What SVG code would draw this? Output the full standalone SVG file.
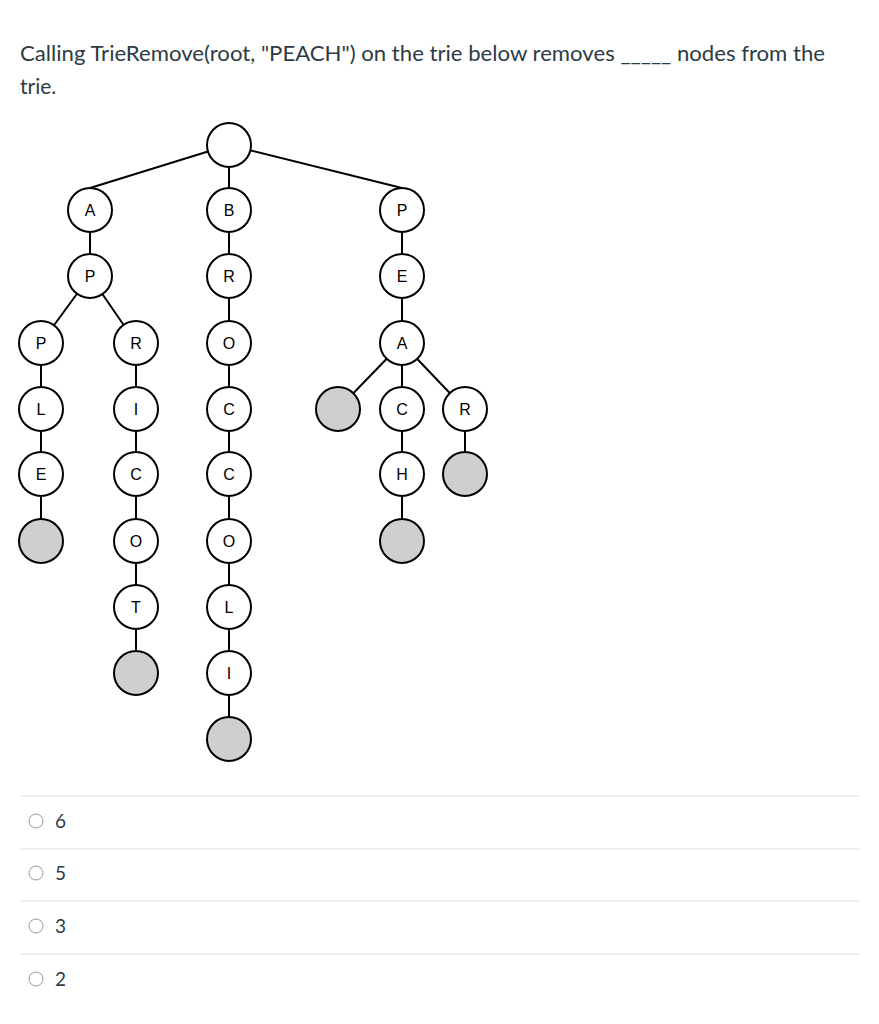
<svg xmlns="http://www.w3.org/2000/svg" width="879" height="1024" viewBox="0 0 879 1024">
<style>
.t{font-family:Lato,"Open Sans",sans-serif;font-size:21px;fill:#2d3b45}
.n circle{fill:#fff;stroke:#000;stroke-width:2}
.n.g circle{fill:#cfcfcf}
.n text{font-family:"Liberation Sans",Arial,sans-serif;font-size:16px;text-anchor:middle;fill:#000}
#edges line{stroke:#000;stroke-width:2}
.r{fill:#fff;stroke:#999;stroke-width:1}
.sep{stroke:#ddd;stroke-width:1}
.o{font-family:Lato,"Open Sans",sans-serif;font-size:19px;fill:#2d3b45}
</style>
<rect width="879" height="1024" fill="#fff"/>
<text class="t" x="20" y="61" textLength="805" lengthAdjust="spacingAndGlyphs">Calling TrieRemove(root, "PEACH") on the trie below removes _____ nodes from the</text>
<text class="t" x="20" y="94">trie.</text>
<g id="edges">
<line x1="229" y1="145" x2="90" y2="188"/><line x1="229" y1="145" x2="402" y2="188"/>
<line x1="229" y1="145" x2="229" y2="739"/>
<line x1="90" y1="210" x2="90" y2="276"/>
<line x1="90" y1="276" x2="41" y2="343"/><line x1="90" y1="276" x2="136" y2="343"/>
<line x1="41" y1="343" x2="41" y2="541"/>
<line x1="136" y1="343" x2="136" y2="673"/>
<line x1="402" y1="210" x2="402" y2="541"/>
<line x1="402" y1="343" x2="338" y2="409"/><line x1="402" y1="343" x2="465" y2="409"/>
<line x1="465" y1="409" x2="465" y2="474"/>
</g>
<g id="root" class="n"><circle cx="229" cy="145" r="22"/></g>
<g id="nA" class="n"><circle cx="90" cy="210" r="22"/><text x="90" y="216">A</text></g>
<g id="nAP" class="n"><circle cx="90" cy="276" r="22"/><text x="90" y="282">P</text></g>
<g id="nAPP" class="n"><circle cx="41" cy="343" r="22"/><text x="41" y="349">P</text></g>
<g id="nAPPL" class="n"><circle cx="41" cy="409" r="22"/><text x="41" y="415">L</text></g>
<g id="nAPPLE" class="n"><circle cx="41" cy="474" r="22"/><text x="41" y="480">E</text></g>
<g id="nAPPLEend" class="n g"><circle cx="41" cy="541" r="22"/></g>
<g id="nAPR" class="n"><circle cx="136" cy="343" r="22"/><text x="136" y="349">R</text></g>
<g id="nAPRI" class="n"><circle cx="136" cy="409" r="22"/><text x="136" y="415">I</text></g>
<g id="nAPRIC" class="n"><circle cx="136" cy="474" r="22"/><text x="136" y="480">C</text></g>
<g id="nAPRICO" class="n"><circle cx="136" cy="541" r="22"/><text x="136" y="547">O</text></g>
<g id="nAPRICOT" class="n"><circle cx="136" cy="607" r="22"/><text x="136" y="613">T</text></g>
<g id="nAPRICOTend" class="n g"><circle cx="136" cy="673" r="22"/></g>
<g id="nB" class="n"><circle cx="229" cy="210" r="22"/><text x="229" y="216">B</text></g>
<g id="nBR" class="n"><circle cx="229" cy="276" r="22"/><text x="229" y="282">R</text></g>
<g id="nBRO" class="n"><circle cx="229" cy="343" r="22"/><text x="229" y="349">O</text></g>
<g id="nBROC" class="n"><circle cx="229" cy="409" r="22"/><text x="229" y="415">C</text></g>
<g id="nBROCC" class="n"><circle cx="229" cy="474" r="22"/><text x="229" y="480">C</text></g>
<g id="nBROCCO" class="n"><circle cx="229" cy="541" r="22"/><text x="229" y="547">O</text></g>
<g id="nBROCCOL" class="n"><circle cx="229" cy="607" r="22"/><text x="229" y="613">L</text></g>
<g id="nBROCCOLI" class="n"><circle cx="229" cy="673" r="22"/><text x="229" y="679">I</text></g>
<g id="nBROCCOLIend" class="n g"><circle cx="229" cy="739" r="22"/></g>
<g id="nP" class="n"><circle cx="402" cy="210" r="22"/><text x="402" y="216">P</text></g>
<g id="nPE" class="n"><circle cx="402" cy="276" r="22"/><text x="402" y="282">E</text></g>
<g id="nPEA" class="n"><circle cx="402" cy="343" r="22"/><text x="402" y="349">A</text></g>
<g id="nPEAend" class="n g"><circle cx="338" cy="409" r="22"/></g>
<g id="nPEAC" class="n"><circle cx="402" cy="409" r="22"/><text x="402" y="415">C</text></g>
<g id="nPEACH" class="n"><circle cx="402" cy="474" r="22"/><text x="402" y="480">H</text></g>
<g id="nPEACHend" class="n g"><circle cx="402" cy="541" r="22"/></g>
<g id="nPEAR" class="n"><circle cx="465" cy="409" r="22"/><text x="465" y="415">R</text></g>
<g id="nPEARend" class="n g"><circle cx="465" cy="474" r="22"/></g>
<line class="sep" x1="20" y1="796" x2="860" y2="796"/>
<line class="sep" x1="20" y1="849" x2="860" y2="849"/>
<line class="sep" x1="20" y1="901" x2="860" y2="901"/>
<line class="sep" x1="20" y1="954" x2="860" y2="954"/>
<circle class="r" cx="36" cy="821" r="7"/><text class="o" x="55" y="828">6</text>
<circle class="r" cx="36" cy="873" r="7"/><text class="o" x="55" y="880">5</text>
<circle class="r" cx="36" cy="926" r="7"/><text class="o" x="55" y="933">3</text>
<circle class="r" cx="36" cy="979" r="7"/><text class="o" x="55" y="986">2</text>
</svg>
